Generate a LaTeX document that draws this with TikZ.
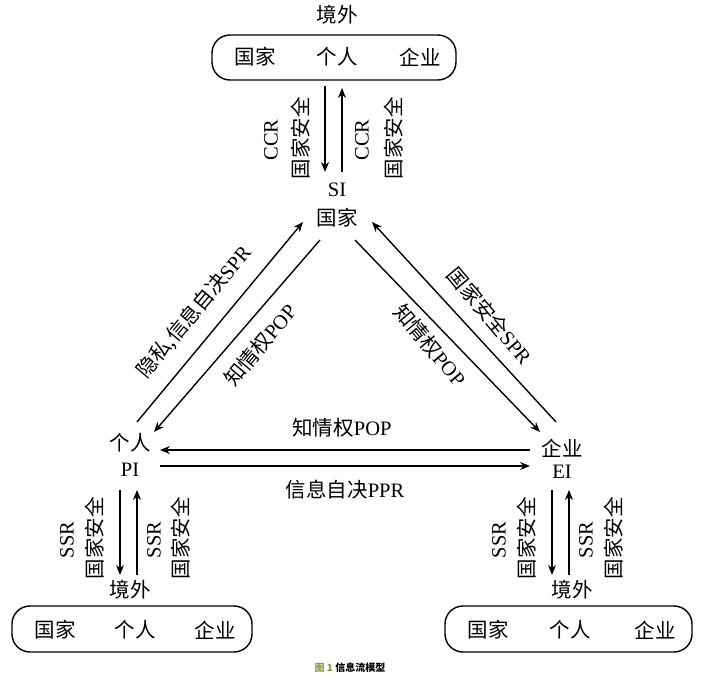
\documentclass[tikz,border=0pt]{standalone}
\usepackage{fontspec}
\setmainfont{Liberation Serif}
\newfontfamily\cjk{Noto Sans CJK SC}
\newcommand{\zh}[1]{{\cjk #1}}
\usetikzlibrary{arrows.meta}
\begin{document}
\begin{tikzpicture}[x=1pt,y=-1pt,
  lab/.style={font=\fontsize{20.5}{22}\selectfont,inner sep=1pt},
  box/.style={draw,line width=1.4pt,rounded corners=18pt},
  arr/.style={line width=1.4pt,-{Stealth[length=10pt,width=8pt]}}]
\useasboundingbox (0,0) rectangle (704,685);
% top
\node[lab] (tw) at (337,15) {\zh{境外}};
\draw[box] (212,35) rectangle (456,80);
\node[lab] (t1) at (255,57) {\zh{国家}};
\node[lab] (t2) at (337,57) {\zh{个人}};
\node[lab] (t3) at (420,57) {\zh{企业}};
\coordinate (ta1) at (325,86); \coordinate (ta2) at (325,172);
\coordinate (tb1) at (342,172); \coordinate (tb2) at (342,88);
\draw[arr] (ta1) -- (ta2);
\draw[arr] (tb1) -- (tb2);
\node[lab,rotate=90] (c1) at (271,140) {CCR};
\node[lab,rotate=90] (c2) at (301,138) {\zh{国家安全}};
\node[lab,rotate=90] (c3) at (362,140) {CCR};
\node[lab,rotate=90] (c4) at (394,138) {\zh{国家安全}};
\node[lab] (si) at (337,190) {SI};
\node[lab] (sg) at (337,218) {\zh{国家}};
% side nodes
\node[lab] (pg) at (130,443) {\zh{个人}};
\node[lab] (pi) at (130,470) {PI};
\node[lab] (eg) at (562,448) {\zh{企业}};
\node[lab] (ei) at (562,472) {EI};
% diagonals
\coordinate (l1) at (137,422); \coordinate (l2) at (303,222);
\coordinate (l3) at (320,240); \coordinate (l4) at (154,432);
\draw[arr] (l1) -- (l2);
\draw[arr] (l3) -- (l4);
\node[lab,rotate=50] at (194,312) {\zh{隐私,信息自决}SPR};
\node[lab,rotate=50] at (260,345) {\zh{知情权}POP};
\coordinate (r1) at (556,422); \coordinate (r2) at (372,222);
\coordinate (r3) at (355,240); \coordinate (r4) at (540,432);
\draw[arr] (r1) -- (r2);
\draw[arr] (r3) -- (r4);
\node[lab,rotate=-50] at (490,316) {\zh{国家安全}SPR};
\node[lab,rotate=-50] at (430,345) {\zh{知情权}POP};
% horizontals
\coordinate (h1) at (530,450); \coordinate (h2) at (160,450);
\coordinate (h3) at (160,466); \coordinate (h4) at (530,466);
\draw[arr] (h1) -- (h2);
\draw[arr] (h3) -- (h4);
\node[lab] at (342,428) {\zh{知情权}POP};
\node[lab] at (345,490) {\zh{信息自决}PPR};
% bottom left
\coordinate (bl1) at (120,490); \coordinate (bl2) at (120,575);
\coordinate (bl3) at (137,575); \coordinate (bl4) at (137,490);
\draw[arr] (bl1) -- (bl2);
\draw[arr] (bl3) -- (bl4);
\node[lab,rotate=90] at (67,540) {SSR};
\node[lab,rotate=90] at (95,538) {\zh{国家安全}};
\node[lab,rotate=90] at (154,540) {SSR};
\node[lab,rotate=90] at (181,538) {\zh{国家安全}};
\node[lab] at (130,590) {\zh{境外}};
\draw[box] (12,606) rectangle (252,652);
\node[lab] at (55,630) {\zh{国家}};
\node[lab] at (135,630) {\zh{个人}};
\node[lab] at (215,630) {\zh{企业}};
% bottom right
\coordinate (br1) at (552,490); \coordinate (br2) at (552,575);
\coordinate (br3) at (569,575); \coordinate (br4) at (569,490);
\draw[arr] (br1) -- (br2);
\draw[arr] (br3) -- (br4);
\node[lab,rotate=90] at (499,540) {SSR};
\node[lab,rotate=90] at (527,538) {\zh{国家安全}};
\node[lab,rotate=90] at (586,540) {SSR};
\node[lab,rotate=90] at (614,538) {\zh{国家安全}};
\node[lab] at (572,590) {\zh{境外}};
\draw[box] (445,606) rectangle (692,652);
\node[lab] at (488,630) {\zh{国家}};
\node[lab] at (570,630) {\zh{个人}};
\node[lab] at (655,630) {\zh{企业}};
% caption
\node[font=\cjk\bfseries\fontsize{10}{12}\selectfont] (cap) at (350,668) {\textcolor[rgb]{0.55,0.6,0.3}{图 1} 信息流模型};
\end{tikzpicture}
\end{document}
